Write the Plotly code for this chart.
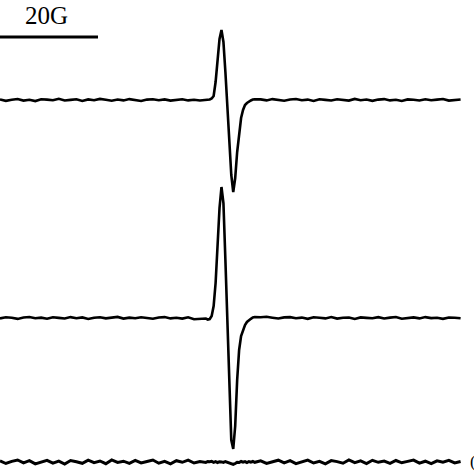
import plotly.graph_objects as go

# magnetic field (G), relative to the left edge of the sweep
field_left = [0.0, 1.2, 2.4, 3.6, 4.8, 6.0, 7.2, 8.4, 9.6, 10.8, 12.0, 13.2, 14.4, 15.6,
              16.8, 18.0, 19.2, 20.4, 21.6, 22.8, 24.0, 25.2, 26.4, 27.6, 28.8, 30.0,
              31.2, 32.4, 33.6, 34.8, 36.0, 37.2, 38.4, 39.6, 40.8]
field_peak = [42.0, 42.4, 42.8, 43.2, 43.6, 44.0, 44.4, 44.8, 45.2, 45.6, 46.0, 46.4,
              46.8, 47.2, 47.6, 48.0, 48.4, 48.8, 49.2, 49.6, 50.0, 50.4, 50.8, 51.2,
              51.6, 52.0]
field_right = [53.2, 54.4, 55.6, 56.8, 58.0, 59.2, 60.4, 61.6, 62.8, 64.0, 65.2, 66.4,
               67.6, 68.8, 70.0, 71.2, 72.4, 73.6, 74.8, 76.0, 77.2, 78.4, 79.6, 80.8,
               82.0, 83.2, 84.4, 85.6, 86.8, 88.0, 89.2, 90.4, 91.6, 92.8, 94.0]

# first-derivative EPR signal (a.u.), top trace
top_left = [0.5, -0.8, 0.3, 1.0, -0.6, 0.2, -1.1, 0.7, 0.4, -0.3, 1.2, -0.5, 0.1, 0.8,
            -0.9, 0.6, -0.2, 1.1, 0.3, -0.7, 0.5, -0.4, 0.9, 0.2, -1.0, 0.4, 0.7, -0.3,
            0.6, -0.6, 0.1, 0.8, -0.4, 0.3, -0.5]
top_peak = [-0.3, 0.2, 0.5, 1.5, 4, 18, 40, 61, 70, 58, 28, -8, -40, -75, -92, -78, -52,
            -32, -18, -10, -5, -3, -1.5, -0.5, 0.4, 0.8]
top_right = [0.6, -0.4, 0.9, 0.2, -0.7, 0.5, 1.0, -0.3, 0.4, -0.9, 0.7, 0.1, -0.5, 0.8,
             0.3, -0.6, 1.1, -0.2, 0.5, -0.8, 0.4, 0.9, -0.4, 0.2, -1.0, 0.6, 0.3, -0.5,
             0.8, -0.2, 0.4, 1.0, -0.6, 0.3, 0.5]

# middle trace
mid_left = [-0.4, 0.7, 0.2, -0.9, 0.5, 1.0, -0.3, 0.4, -0.7, 0.8, 0.1, -0.5, 0.9, -0.2,
            0.6, -1.0, 0.3, 0.7, -0.4, 0.2, 1.1, -0.6, 0.4, -0.3, 0.8, 0.0, -0.8, 0.5,
            0.9, -0.4, 0.2, -0.6, 0.7, -1.2, -0.5]
mid_peak = [-0.5, -1.5, -1.0, 2, 12, 35, 72, 110, 131, 115, 58, -5, -65, -122, -131,
            -108, -62, -32, -18, -12, -7, -4, -2, -0.8, 0.5, 1.0]
mid_right = [0.8, 1.2, 0.3, -0.5, 0.6, 0.9, -0.2, 0.4, -0.8, 0.7, 0.2, -0.4, 1.0, -0.6,
             0.3, 0.5, -0.9, 0.6, 0.1, -0.3, 0.8, -0.5, 0.4, 1.0, -0.7, 0.2, 0.6, -0.4,
             0.9, -0.1, 0.3, -0.8, 0.5, 0.2, -0.3]

# bottom trace (no signal, only noise)
bot_left = [1.2, -1.5, 0.6, 2.0, -0.8, 1.4, -1.9, 0.3, 1.7, -1.1, 0.9, -2.0, 1.5, 0.2,
            -1.3, 1.9, -0.6, 1.0, -1.7, 2.1, -0.4, 0.8, -1.4, 1.6, -0.9, 0.5, 2.0, -1.2,
            0.7, -1.8, 1.3, -0.3, 1.8, -1.0, 0.4]
bot_peak = [-0.4, 0.5, 0.2, 0.6, -0.3, 0.4, -0.5, 0.3, 0.1, -0.4, 0.5, -0.2, -0.9, -1.6,
            -2.4, -1.5, -0.3, -0.5, 0.6, -0.2, 0.4, -0.6, 0.5, -0.1, 0.6, -0.3]
bot_right = [1.1, -1.4, 0.5, 1.8, -0.9, 1.3, -1.6, 0.2, 1.9, -1.0, 0.7, -1.8, 1.4, 0.4,
             -1.2, 2.0, -0.7, 1.1, -1.5, 1.7, -0.3, 0.9, -1.3, 1.5, -0.8, 0.6, 1.9, -1.1,
             0.8, -1.7, 1.2, -0.2, 1.6, -0.9, 0.5]

scale_bar_G = 20
scale_label = '20G'
panel_label = '(c)'

field = field_left + field_peak + field_right
traces = [
    (top_left + top_peak + top_right, -100, 2.6),
    (mid_left + mid_peak + mid_right, -318, 2.6),
    (bot_left + bot_peak + bot_right, -462, 3.0),
]

fig = go.Figure()
for signal, offset, lw in traces:
    fig.add_trace(go.Scatter(
        x=field,
        y=[v + offset for v in signal],
        mode='lines',
        line=dict(color='black', width=lw),
        hoverinfo='skip',
    ))

# 20 G scale bar
fig.add_shape(type='line', x0=0, x1=scale_bar_G, y0=-37, y1=-37,
              line=dict(color='black', width=2.8))
fig.add_annotation(x=scale_bar_G * 0.47, y=-15, text=scale_label, showarrow=False,
                   font=dict(family='Liberation Serif, Times New Roman, serif',
                             size=25, color='black'))
fig.add_annotation(x=95.6, y=-461, text=panel_label, showarrow=False, xanchor='left',
                   font=dict(family='Liberation Serif, Times New Roman, serif',
                             size=17, color='black'))

fig.update_layout(
    width=474, height=474,
    margin=dict(l=0, r=0, t=0, b=0),
    paper_bgcolor='white', plot_bgcolor='white',
    showlegend=False,
    xaxis=dict(range=[0, 474 / 4.9], visible=False),
    yaxis=dict(range=[-474, 0], visible=False),
)

# drop the default 8px page margin so the figure fills the window
fig.write_html('out.html', config={'displayModeBar': False},
               post_script="document.body.style.margin='0';document.body.style.overflow='hidden';")
